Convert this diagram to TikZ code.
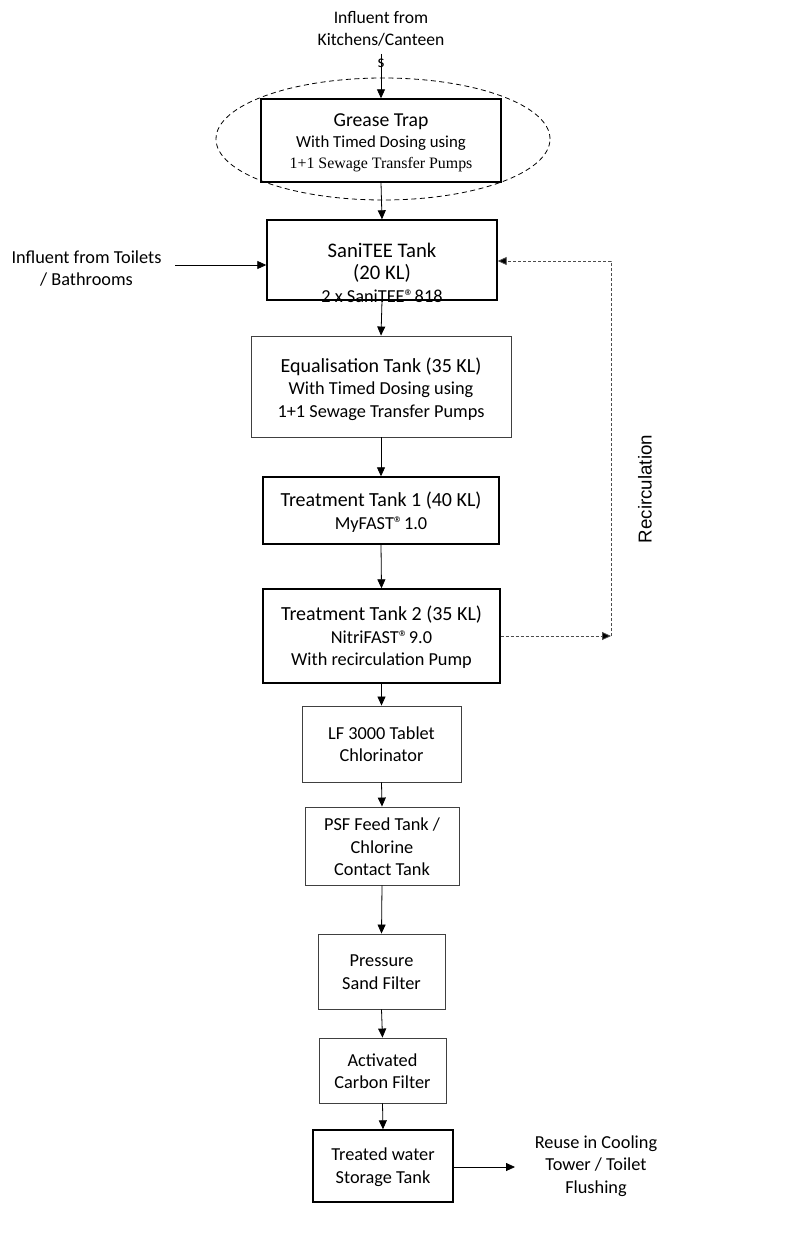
\documentclass[tikz,border=0pt]{standalone}
\usepackage{fontspec}
\setmainfont{Carlito}
\newfontfamily\tnr{Liberation Serif}
\newfontfamily\arl{Liberation Sans}
\usetikzlibrary{arrows.meta,shapes.geometric}
\newcommand{\ttl}{\fontsize{20}{23.5}\selectfont}
\newcommand{\regd}{®\kern-0.18em}
\begin{document}
\begin{tikzpicture}[x=1pt,y=-1pt,
  boxA/.style={draw=black,line width=1.4pt,inner sep=0pt},
  boxB/.style={draw=black!75,line width=0.9pt,inner sep=0pt},
  txt/.style={align=center,inner sep=0pt,font=\fontsize{18.3}{22.5}\selectfont},
  flow/.style={line width=0.8pt,-{Triangle[length=9pt,width=8pt]}},
  recirc/.style={draw=black!70,line width=0.8pt,dash pattern=on 3pt off 2pt},
  recircarrow/.style={recirc,-{Triangle[length=9pt,width=8pt,fill=black]}}]
\useasboundingbox (0,0) rectangle (800,1247);
% top input
\node[txt,font=\fontsize{17.6}{22}\selectfont] (kit) at (381,40) {Influent from\\Kitchens/Canteen\\s};
\coordinate (kitend) at (381,54);
% grease trap
\node[boxA,minimum width=240pt,minimum height=83pt] (gt) at (381,140.5) {};
\node[txt,font=\fontsize{16.8}{21}\selectfont] (gtt) at (381,142.5) {{\fontsize{19.7}{21}\selectfont Grease Trap}\\With Timed Dosing using\\{\tnr\fontsize{15.9}{21}\selectfont 1+1 Sewage Transfer Pumps}};
\node[draw,line width=0.8pt,dash pattern=on 5pt off 3.5pt,ellipse,minimum width=334pt,minimum height=122pt] (gte) at (383,139) {};
% SaniTEE
\node[boxA,minimum width=230pt,minimum height=80pt] (san) at (382,260) {};
\node[txt] (sant) at (382,272.5) {{\fontsize{20.7}{27}\selectfont SaniTEE Tank}\\{\fontsize{20.7}{27}\selectfont (20 KL)}\\2 x SaniTEE\regd{} 818};
\node[txt] (toil) at (86.5,268.5) {Influent from Toilets\\/ Bathrooms};
\coordinate (toilend) at (175,265);
% Equalisation
\node[boxB,minimum width=260pt,minimum height=101pt] (eq) at (381,386.5) {};
\node[txt] (eqt) at (381,389) {{\ttl Equalisation Tank (35 KL)}\\With Timed Dosing using\\1+1 Sewage Transfer Pumps};
% Treatment Tank 1
\node[boxA,minimum width=236pt,minimum height=67pt] (tt1) at (381,510.5) {};
\node[txt] (tt1t) at (381,512) {{\ttl Treatment Tank 1 (40 KL)}\\MyFAST\regd{} 1.0};
% Treatment Tank 2
\node[boxA,minimum width=237pt,minimum height=94pt] (tt2) at (381.5,636) {};
\node[txt] (tt2t) at (381.5,637.5) {{\ttl Treatment Tank 2 (35 KL)}\\NitriFAST\regd{} 9.0\\With recirculation Pump};
% LF 3000
\node[boxB,minimum width=159pt,minimum height=76pt] (lf) at (381.5,744) {};
\node[txt] (lft) at (381.5,744) {LF 3000 Tablet\\Chlorinator};
% PSF
\node[boxB,minimum width=154pt,minimum height=78pt] (psf) at (382,846) {};
\node[txt] (psft) at (382,847) {PSF Feed Tank /\\Chlorine\\Contact Tank};
% Pressure sand filter
\node[boxB,minimum width=127pt,minimum height=75pt] (psfil) at (381.5,971.5) {};
\node[txt] (psfilt) at (381.5,972) {Pressure\\Sand Filter};
% Activated carbon
\node[boxB,minimum width=127pt,minimum height=65pt] (acf) at (382.5,1070.5) {};
\node[txt] (acft) at (382.5,1071) {Activated\\Carbon Filter};
% Treated water
\node[boxA,minimum width=140pt,minimum height=72pt] (tw) at (383,1166) {};
\node[txt] (twt) at (383,1167) {Treated water\\Storage Tank};
\node[txt] (reuse) at (596,1166) {Reuse in Cooling\\Tower / Toilet\\Flushing};
\coordinate (reuseend) at (515,1167);
% Recirculation
\node[txt,font=\arl\fontsize{18.7}{22}\selectfont,rotate=90] (rec) at (645,489) {Recirculation};
\coordinate (rc1) at (611,636);
\coordinate (rc2) at (611,261);
% connectors
\draw[flow] (kitend) -- (gt.north);
\draw[flow] (gt.south) -- (san.north);
\draw[flow] (toilend) -- (toilend -| san.west);
\draw[flow] (san.south) -- (eq.north);
\draw[flow] (eq.south) -- (tt1.north);
\draw[flow] (tt1.south) -- (tt2.north);
\draw[flow] (tt2.south) -- (lf.north);
\draw[flow] (lf.south) -- (psf.north);
\draw[flow] (psf.south) -- (psfil.north);
\draw[flow] (psfil.south) -- (acf.north);
\draw[flow] (acf.south) -- (tw.north);
\draw[flow] (tw.east |- reuseend) -- (reuseend);
\draw[recircarrow] (tt2.east |- rc1) -- (rc1);
\draw[recircarrow] (rc1) -- (rc2) -- (rc2 -| san.east);
\end{tikzpicture}
\end{document}
